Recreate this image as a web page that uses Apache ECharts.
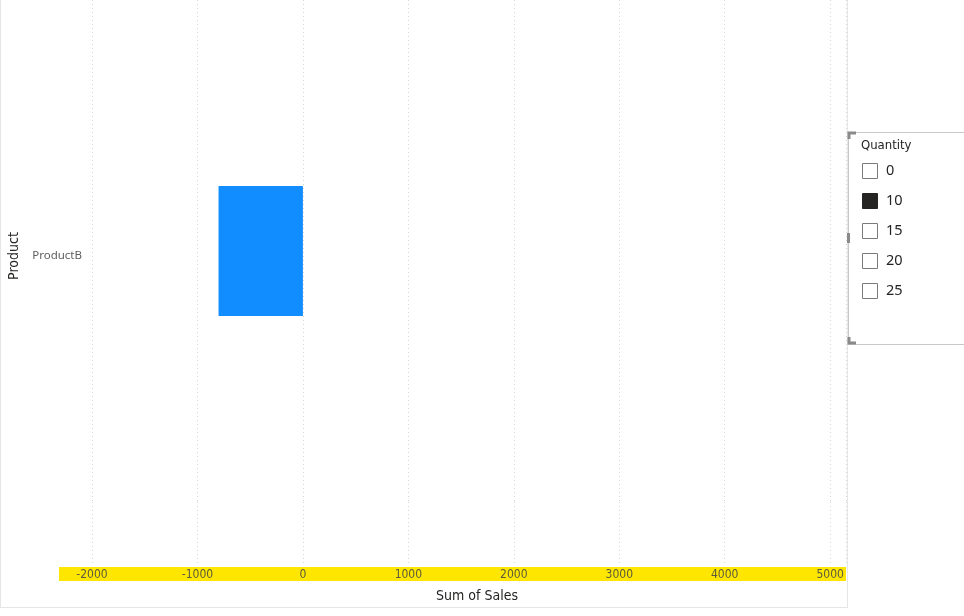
<!DOCTYPE html>
<html>
<head>
<meta charset="utf-8">
<title>Sum of Sales by Product</title>
<script src="https://cdn.jsdelivr.net/npm/echarts@6/dist/echarts.min.js"></script>
<style>
  html, body { margin: 0; padding: 0; background: #fff; }
  #chart { width: 964px; height: 616px; }
</style>
</head>
<body>
<div id="chart"></div>
<script>
// data
const products = ["ProductB"];
const sales = [-800];
const quantities = ["0", "10", "15", "20", "25"];
const selectedQuantity = "10";
const xMin = -2000;
const xMax = 5150;
const xInterval = 1000;

const titleFont = "DejaVu Sans Condensed";
const gridLine = { show: true, lineStyle: { color: "#d6d6d6", type: [1, 3], width: 1 } };

// slicer on the right, built from the quantities list
const slicer = [
  { type: "line", shape: { x1: 848, y1: 132.5, x2: 964, y2: 132.5 }, style: { stroke: "#c8c8c8", lineWidth: 1 } },
  { type: "line", shape: { x1: 848, y1: 344.5, x2: 964, y2: 344.5 }, style: { stroke: "#c8c8c8", lineWidth: 1 } },
  { type: "line", shape: { x1: 848.5, y1: 132, x2: 848.5, y2: 345 }, style: { stroke: "#c8c8c8", lineWidth: 1 } },
  { type: "polyline", shape: { points: [[849, 139], [849, 133], [856, 133]] }, style: { stroke: "#8a8a8a", lineWidth: 3, fill: null } },
  { type: "polyline", shape: { points: [[849, 337], [849, 343], [856, 343]] }, style: { stroke: "#8a8a8a", lineWidth: 3, fill: null } },
  { type: "rect", shape: { x: 847, y: 233, width: 3, height: 10 }, style: { fill: "#8a8a8a" } },
  { type: "text", x: 861, y: 146, style: { text: "Quantity", font: "13px " + titleFont, fill: "#252423", verticalAlign: "middle" } }
];
quantities.forEach(function (q, i) {
  const cy = 171 + i * 30;
  slicer.push({
    type: "rect",
    shape: { x: 862.5, y: cy - 7.5, width: 15, height: 15 },
    style: { fill: q === selectedQuantity ? "#252423" : "#fff", stroke: q === selectedQuantity ? "#252423" : "#7a7a7a", lineWidth: 1 }
  });
  slicer.push({
    type: "text", x: 886, y: cy,
    style: { text: q, font: "14.5px 'Noto Sans'", fill: "#252423", verticalAlign: "middle" }
  });
});

const chart = echarts.init(document.getElementById("chart"));
chart.setOption({
  animation: false,
  graphic: [
    // visual frame
    { type: "line", shape: { x1: 0.5, y1: 0, x2: 0.5, y2: 608 }, style: { stroke: "#e6e6e6", lineWidth: 1 } },
    { type: "line", shape: { x1: 847.5, y1: 0, x2: 847.5, y2: 608 }, style: { stroke: "#e6e6e6", lineWidth: 1 } },
    { type: "line", shape: { x1: 0, y1: 607.5, x2: 848, y2: 607.5 }, style: { stroke: "#e6e6e6", lineWidth: 1 } },
    // axis label background band
    { type: "rect", z: -10, shape: { x: 59, y: 567, width: 787, height: 14 }, style: { fill: "#FFE600" } }
  ].concat(slicer),
  grid: [
    { left: 92, top: 0, width: 754, height: 502, outerBoundsMode: "none", containLabel: false },
    { left: 92, top: 502, width: 754, height: 63, outerBoundsMode: "none", containLabel: false }
  ],
  xAxis: [
    {
      gridIndex: 0, type: "value", min: xMin, max: xMax, interval: xInterval,
      axisLine: { show: false }, axisTick: { show: false }, axisLabel: { show: false },
      splitLine: gridLine
    },
    {
      gridIndex: 1, type: "value", min: xMin, max: xMax, interval: xInterval,
      axisLine: { show: false }, axisTick: { show: false },
      axisLabel: {
        color: "#5a5a3c", fontFamily: titleFont, fontSize: 12, margin: 4, showMaxLabel: false,
        formatter: function (v) { return String(v); }
      },
      splitLine: gridLine,
      name: "Sum of Sales", nameLocation: "middle", nameGap: 24,
      nameTextStyle: { color: "#252423", fontFamily: titleFont, fontSize: 14, padding: [0, 0, 0, 16] }
    }
  ],
  yAxis: [
    {
      gridIndex: 0, type: "category", data: products,
      axisLine: { show: false }, axisTick: { show: false },
      axisLabel: {
        color: "#605E5C", fontFamily: "'Noto Sans'", fontSize: 11.5, margin: 10,
        verticalAlign: "top", lineHeight: 9
      },
      name: "Product", nameLocation: "middle", nameGap: 70, nameRotate: 90,
      nameTextStyle: {
        color: "#252423", fontFamily: titleFont, fontSize: 14,
        padding: [0, 10, 0, 0], backgroundColor: "rgba(255,255,255,0)"
      }
    },
    { gridIndex: 1, type: "value", show: false }
  ],
  series: [
    {
      type: "bar", xAxisIndex: 0, yAxisIndex: 0,
      data: sales, barWidth: 130,
      itemStyle: { color: "#118DFF" }
    }
  ]
});
</script>
</body>
</html>
